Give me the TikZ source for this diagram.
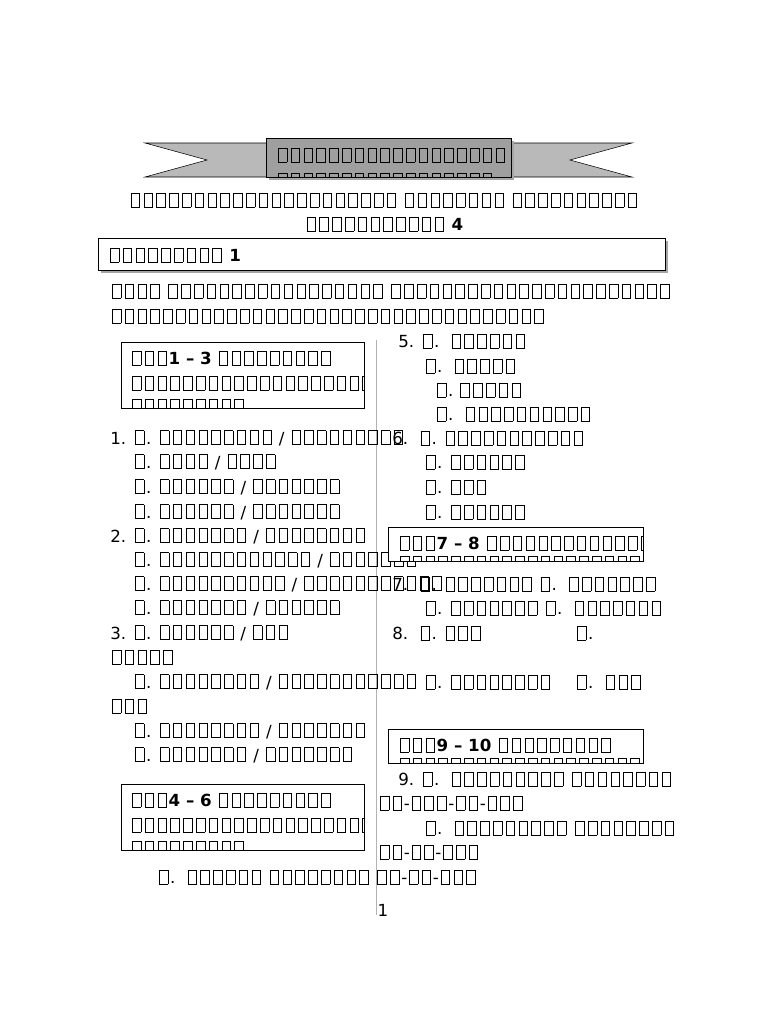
\documentclass[tikz,border=0pt]{standalone}
\usepackage{fontspec}
\setmainfont{DejaVu Sans}
\usepackage{newunicodechar}
\usepackage{xcolor}
\usepackage{tikz}

\newcommand\bx{\kern1.3pt{\fboxsep=0pt\fboxrule=0.6pt\fbox{\rule{0pt}{10pt}\hspace{5.8pt}}}\kern1.3pt}
\newunicodechar{▯}{\bx}
\newcommand\boxes[1]{\foreach\i in {1,...,#1}{\bx}}

\tikzset{
  line/.style={anchor=west,inner sep=0pt,font=\fontsize{12.5}{14}\selectfont},
  bline/.style={line,font=\fontsize{12.5}{14}\selectfont\bfseries},
  frame/.style={draw,fill=white},
  shade/.style={fill=gray!70}
}

\begin{document}
\begin{tikzpicture}[x=0.75pt,y=-0.75pt]
\useasboundingbox (0,0) rectangle (768,1024);

% banner
\draw[fill=gray!55] (145,143)--(300,143)--(300,177)--(145,177)--(207,160)--cycle;
\draw[fill=gray!55] (632,143)--(480,143)--(480,177)--(632,177)--(570,160)--cycle;
\fill[shade] (269,141) rectangle (514,180);
\draw[fill=gray!75] (266,138) rectangle (511,177);
\begin{scope}
\clip (266,138) rectangle (511,177);
\node[line] (ban1) at (276,155) {\boxes{18}};
\node[line] (ban2) at (276,180) {\boxes{17}};
\end{scope}

% title
\node[line,anchor=center] (tit1) at (384,200) {\boxes{21} \boxes{8} \boxes{10}};
\node[bline,anchor=center] (tit2) at (384,224) {\boxes{11} 4};

% section box
\fill[shade] (101,241) rectangle (668,273);
\draw[frame] (98,238) rectangle (665,270);
\node[bline] (sec) at (108,255) {\boxes{9} 1};

\node[line] (intro1) at (110,291) {\boxes{4} ▯ \boxes{16} \boxes{22}};
\node[line] (intro2) at (110,316) {\boxes{34}};

% column rule
\draw[gray!60] (376,340)--(376,915);

% left question boxes
\foreach \y/\a in {342/1 – 3, 784/4 – 6}{
  \draw[frame] (121,\y) rectangle (364,\y+66);
  \begin{scope}
  \clip (121,\y) rectangle (364,\y+66);
  \node[line] at (130,\y+16) {▯▯▯ \textbf{\a} \boxes{9}};
  \node[line] at (130,\y+41) {\boxes{25}};
  \node[line] at (130,\y+64) {▯▯ \boxes{7}};
  \end{scope}
}

% left answers
\node[line] (q1) at (110,438) {1. ▯. \boxes{9} / \boxes{9}};
\foreach \y/\t in {462/{▯. \boxes{4} / \boxes{4}}, 487/{▯. \boxes{6} / \boxes{7}},
  512/{▯. \boxes{6} / \boxes{7}}, 560/{▯. \boxes{12} / \boxes{7}},
  584/{▯. \boxes{10} / \boxes{11}}, 608/{▯. \boxes{7} / \boxes{6}},
  682/{▯. \boxes{8} / \boxes{11}}, 731/{▯. \boxes{8} / \boxes{7}},
  755/{▯. \boxes{7} / \boxes{7}}}
  \node[line] at (133,\y) {\t};
\node[line] (q2) at (110,536) {2. ▯. \boxes{7} / \boxes{8}};
\node[line] (q3) at (110,633) {3. ▯. \boxes{6} / \boxes{3}};
\node[line] (q3b) at (110,657) {\boxes{5}};
\node[line] (q3c) at (110,706) {\boxes{3}};
\node[line] (q6x) at (157,877) {▯.~~\boxes{6} \boxes{8} ▯▯-▯▯-▯▯▯};

% right answers
\node[line] (q5) at (398,341) {5. ▯.~~\boxes{6}};
\node[line] (q5b) at (424,366) {▯.~~\boxes{5}};
\node[line] (q5c) at (435,390) {▯.~\boxes{5}};
\node[line] (q5d) at (435,414) {▯.~~\boxes{10}};
\node[line] (q6) at (392,438) {6.~~▯. \boxes{11}};
\node[line] (q6b) at (424,462) {▯. \boxes{6}};
\node[line] (q6c) at (424,487) {▯. \boxes{3}};
\node[line] (q6d) at (424,512) {▯. \boxes{6}};

% right question boxes
\foreach \y/\a/\n in {527/7 – 8/14, 729/9 – 10/9}{
  \draw[frame] (388,\y) rectangle (643,\y+34);
  \begin{scope}
  \clip (388,\y) rectangle (643,\y+34);
  \node[bline] at (398,\y+16) {▯▯▯ \a\ \boxes{\n}};
  \node[line] at (398,\y+36) {\boxes{22}};
  \end{scope}
}

\node[line] (q7) at (392,584) {7.~~▯. \boxes{7} ▯.~~\boxes{7}};
\node[line] (q7b) at (424,608) {▯. \boxes{7} ▯.~~\boxes{7}};
\node[line] (q8) at (392,633) {8.~~▯. \boxes{3}};
\node[line] (q8b) at (575,633) {▯.};
\node[line] (q8c) at (424,682) {▯. \boxes{8}};
\node[line] (q8d) at (575,682) {▯.~~\boxes{3}};
\node[line] (q9) at (398,779) {9. ▯.~~\boxes{9} \boxes{8}};
\node[line] (q9b) at (378,803) {▯▯-▯▯▯-▯▯-▯▯▯};
\node[line] (q9c) at (424,828) {▯.~~\boxes{9} \boxes{8}};
\node[line] (q9d) at (378,852) {▯▯-▯▯-▯▯▯};

\node[line,anchor=center] (page) at (383,910) {1};

\end{tikzpicture}
\end{document}
